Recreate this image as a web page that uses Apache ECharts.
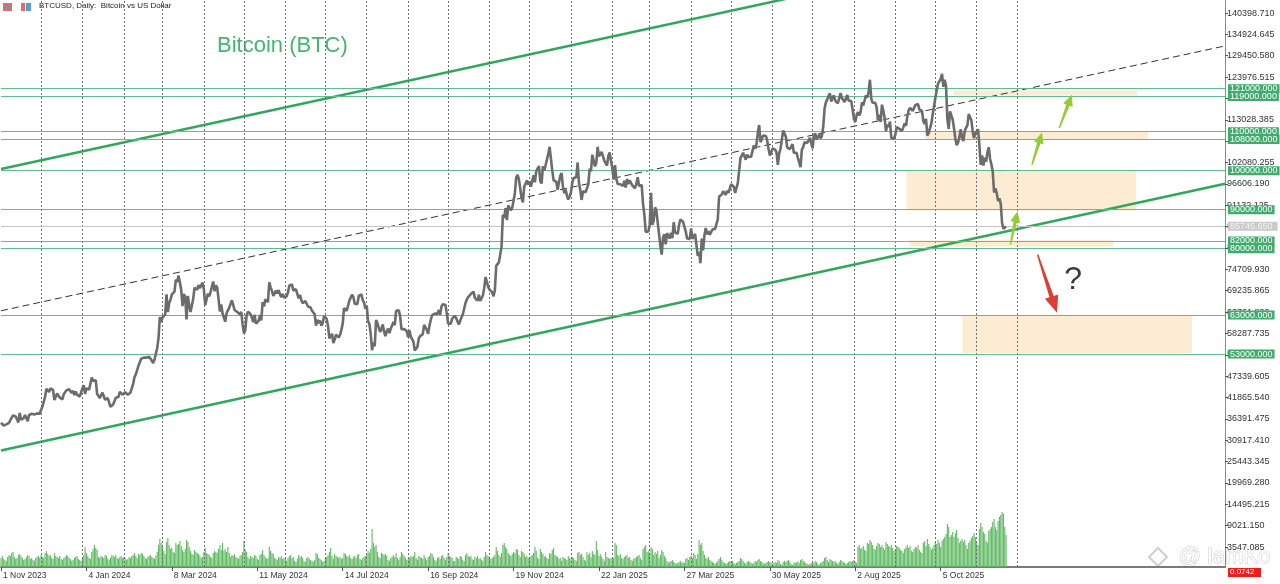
<!DOCTYPE html>
<html><head><meta charset="utf-8">
<script src="https://cdn.jsdelivr.net/npm/echarts@6/dist/echarts.min.js"></script>
<style>html,body{margin:0;padding:0;background:#fff}#c{width:1280px;height:584px}</style>
</head><body><div id="c"></div>
<script>
// ---------- DATA ----------
const startDate = '2023-11-01';           // day index 0
// Daily close, thousand USD (1 Nov 2023 .. 23 Nov 2025)
const closeK = [
// Nov 2023
35.4,34.9,34.7,35.1,35.0,35.0,35.4,35.6,36.7,37.3,37.1,37.0,36.5,35.5,37.9,36.2,36.6,36.6,37.4,37.5,35.8,37.4,37.3,37.7,37.8,37.5,37.2,37.8,37.9,37.7,
// Dec 2023
38.7,39.5,39.9,42.0,44.1,43.8,43.3,44.2,43.7,43.8,41.2,41.5,42.9,43.0,41.9,42.3,41.4,42.7,42.3,43.7,43.7,44.0,43.7,43.0,43.6,42.5,43.4,42.6,42.1,42.1,42.3,
// Jan 2024
44.2,45.0,42.8,44.2,44.2,43.9,43.9,47.0,46.1,46.6,46.3,42.8,42.8,41.7,42.5,43.1,42.7,41.3,41.6,41.7,41.6,39.5,39.8,40.1,39.9,41.8,42.1,42.0,43.3,42.9,42.6,
// Feb 2024
43.1,43.2,43.0,42.6,42.7,43.1,44.3,45.3,47.1,47.8,48.3,50.0,49.7,51.8,51.9,52.1,51.6,52.1,51.8,52.3,51.8,51.3,50.7,51.6,51.7,54.5,57.1,62.5,61.2,
// Mar 2024
62.4,62.0,63.1,68.3,63.8,66.1,66.9,68.3,68.5,69.0,72.1,71.5,73.1,71.4,69.5,65.3,68.4,67.6,61.9,67.9,65.5,63.8,64.1,67.2,70.0,69.9,69.5,70.7,69.9,69.7,71.3,
// Apr 2024
69.6,65.5,66.0,68.5,67.8,68.9,69.4,71.6,69.1,70.6,70.0,67.1,63.9,65.7,63.4,63.8,61.3,63.5,63.8,64.9,64.9,66.8,66.4,64.3,64.5,63.8,63.4,63.1,63.8,60.6,
// May 2024
58.3,59.1,62.9,63.9,64.0,63.2,62.3,61.2,63.1,60.8,60.8,61.5,63.0,61.6,66.3,65.2,67.0,67.0,66.3,71.4,70.1,69.2,67.9,68.5,69.3,68.5,69.4,68.3,67.6,68.4,67.5,
// Jun 2024
67.8,67.8,68.8,70.6,71.1,70.8,69.3,69.3,69.6,69.5,67.3,68.2,66.8,66.0,66.2,66.6,66.5,65.2,65.0,64.9,64.1,64.3,63.2,60.3,61.8,60.9,61.6,60.3,60.9,62.7,
// Jul 2024
62.8,62.0,60.2,57.0,56.6,58.2,55.8,56.7,58.0,57.7,57.3,57.9,59.2,60.8,64.8,65.1,64.1,63.9,66.7,67.2,68.2,67.6,65.9,65.4,65.8,67.9,68.0,68.3,66.8,66.2,64.6,
// Aug 2024
65.4,61.4,60.7,58.1,54.0,56.0,55.0,61.7,60.9,60.9,58.7,59.4,60.6,58.7,57.6,58.9,59.5,58.4,59.5,59.0,61.2,60.4,64.1,64.2,64.2,62.8,59.4,59.0,59.4,59.1,58.9,
// Sep 2024
57.3,59.1,57.5,58.0,56.2,53.9,54.2,54.9,57.0,57.6,57.3,58.1,60.5,60.0,59.2,58.2,60.3,61.8,63.0,63.2,63.4,63.6,63.3,64.3,63.1,65.2,65.8,65.9,65.6,63.3,
// Oct 2024
60.8,60.6,60.8,62.1,62.1,62.8,62.2,62.1,60.6,60.3,62.4,63.2,62.9,66.1,67.0,67.6,67.4,68.4,68.4,69.0,67.4,67.4,66.7,68.2,66.6,67.0,68.0,69.9,72.7,72.3,70.2,
// Nov 2024
69.5,69.4,68.8,67.8,69.4,75.6,75.9,76.5,76.7,80.5,88.7,87.9,90.4,87.3,91.1,90.6,89.8,90.5,92.3,94.3,98.3,98.9,97.8,98.0,93.0,91.9,95.9,95.6,97.5,96.4,
// Dec 2024
97.3,95.9,96.0,98.8,97.0,99.9,99.8,101.2,97.4,96.7,101.2,100.0,101.4,101.4,104.3,106.1,106.1,100.0,97.5,97.8,97.2,95.1,94.7,98.7,99.4,95.8,94.2,95.2,93.6,92.6,93.4,
// Jan 2025
94.4,96.9,98.1,98.2,98.3,102.1,96.9,95.0,92.5,94.7,94.5,94.5,94.5,96.5,100.5,99.8,104.1,104.4,101.1,102.0,106.1,103.7,104.0,104.8,104.7,102.6,102.1,101.3,103.7,104.7,102.4,
// Feb 2025
100.6,97.7,101.4,97.9,96.6,96.6,96.5,96.5,96.1,97.4,95.7,97.9,96.6,97.5,97.6,96.2,95.8,95.5,96.6,98.3,96.1,96.6,96.3,91.5,88.7,84.3,84.7,84.4,
// Mar 2025
86.1,94.3,86.1,87.2,90.6,89.9,86.7,86.2,80.7,78.5,82.9,83.7,81.1,84.0,84.3,82.6,84.1,82.7,86.8,84.2,84.0,83.8,86.1,87.5,87.4,86.9,87.2,84.4,82.6,82.3,82.5,
// Apr 2025
85.2,82.5,83.1,83.8,83.5,78.2,79.2,76.3,82.6,79.6,83.4,85.3,83.7,84.5,83.6,84.0,84.9,84.5,85.1,85.2,87.5,93.4,93.7,93.9,94.7,94.6,93.8,94.9,94.3,94.2,
// May 2025
96.5,96.9,95.9,94.3,94.7,96.8,97.0,103.2,102.9,104.6,104.1,102.8,104.1,103.5,103.7,103.6,103.2,106.5,105.6,106.8,109.7,111.7,107.3,107.8,109.0,109.4,108.9,107.8,105.6,103.9,104.6,
// Jun 2025
105.7,105.8,105.4,104.7,101.5,104.4,105.6,105.7,110.3,110.3,108.7,105.9,106.1,105.5,105.6,106.8,104.6,104.9,104.6,103.3,102.1,100.9,105.4,106.0,107.3,106.9,107.1,107.3,108.4,107.1,
// Jul 2025
105.7,108.8,109.6,108.0,108.2,109.2,108.3,108.9,111.3,115.9,117.5,117.4,119.1,119.8,117.7,118.7,119.3,117.9,117.9,117.3,117.4,119.9,118.6,118.3,117.6,117.9,119.4,118.0,117.8,117.8,115.7,
// Aug 2025
113.3,112.5,114.2,115.0,114.1,115.0,117.5,116.7,116.5,119.3,118.7,120.2,123.3,118.4,117.4,117.5,117.4,116.2,112.9,114.3,112.5,116.9,115.4,113.5,110.1,111.8,111.2,112.6,108.4,108.8,108.2,
// Sep 2025
109.2,111.2,111.7,110.7,110.7,110.2,111.1,112.1,111.5,113.9,115.5,116.1,115.9,115.3,115.4,116.8,116.5,117.1,115.7,115.7,115.3,112.7,112.0,113.3,109.0,109.6,109.7,112.1,114.4,114.1,
// Oct 2025
118.6,120.6,122.3,122.4,123.5,124.8,121.5,123.3,121.7,113.2,110.7,115.2,115.3,113.1,110.8,108.2,106.5,107.2,108.6,110.6,108.5,107.6,110.1,111.0,111.6,114.5,114.1,112.9,110.0,108.3,109.6,
// Nov 2025
110.1,110.6,106.5,101.5,103.9,101.3,103.3,102.3,104.7,106.0,103.0,101.6,99.7,94.4,95.5,94.2,92.2,92.9,91.5,86.6,85.1,84.7,85.7
];
// Daily tick volume (relative units)
const volume = [
9,11,8,7,6,10,12,11,14,15,10,8,9,12,13,11,9,7,8,10,12,11,8,9,7,6,9,10,11,9,
12,10,9,14,16,13,11,12,9,8,14,11,10,9,11,8,7,9,10,12,11,9,8,6,7,9,10,11,8,7,6,
8,12,20,14,11,9,8,15,18,22,19,17,10,9,11,10,9,12,11,8,7,9,12,11,10,12,9,8,10,11,9,
10,9,7,8,10,9,11,12,14,11,9,13,12,14,13,11,9,8,10,11,12,10,9,8,11,15,22,28,24,
20,16,13,25,29,22,18,19,15,14,24,22,23,26,21,17,15,18,27,25,20,16,13,12,17,15,14,13,11,9,10,
15,19,14,13,12,10,9,14,16,15,14,18,22,17,24,16,18,15,20,14,10,12,11,13,10,9,8,11,12,15,
26,17,15,10,8,11,10,9,12,11,8,7,12,13,17,12,10,8,9,20,16,14,13,9,8,7,10,9,11,8,9,
8,6,9,11,12,9,10,6,5,8,12,10,11,9,6,5,9,10,8,7,6,5,7,14,13,9,8,7,5,6,
9,10,12,15,19,11,8,13,11,10,9,10,8,9,14,13,11,10,12,9,8,10,11,9,12,13,8,7,9,10,11,
12,16,14,18,38,24,20,22,15,10,9,14,13,12,13,11,7,6,9,10,12,10,14,9,7,10,15,13,11,9,7,
8,9,11,10,11,15,9,7,11,10,9,8,12,9,7,10,11,14,13,10,7,6,9,10,8,11,12,9,7,10,
14,11,10,9,6,6,10,9,8,11,10,7,6,12,14,11,10,11,8,7,10,9,11,8,9,7,6,10,15,12,11,
10,8,9,10,12,20,16,12,10,14,22,24,20,18,14,12,11,13,15,14,18,17,12,10,16,15,13,10,11,9,
10,11,12,14,20,16,9,8,18,15,13,10,11,9,8,14,13,17,19,12,11,10,8,9,6,10,9,8,7,11,9,
8,10,9,7,6,14,15,12,13,10,7,6,15,12,14,10,16,13,12,26,17,11,13,10,8,6,15,10,9,8,9,
8,9,24,22,12,11,13,9,8,10,11,12,9,10,7,6,8,9,10,11,12,9,7,18,20,22,15,16,
14,20,18,12,15,13,16,9,12,17,15,11,9,6,4,5,6,7,5,4,3,4,5,6,4,5,4,8,9,7,10,
11,9,14,12,8,13,27,22,24,16,12,9,8,10,7,6,5,4,3,4,6,8,10,7,5,4,3,4,5,6,
5,6,4,3,4,5,6,9,8,6,4,3,5,6,5,4,3,4,6,5,7,8,6,5,4,3,4,5,6,5,4,
3,4,5,4,7,6,3,2,5,6,5,6,7,5,3,2,4,5,4,6,4,7,8,6,5,4,3,2,3,4,
5,4,6,5,3,2,4,5,6,9,10,7,5,8,7,6,5,6,4,3,5,7,6,5,4,3,4,5,6,5,6,
7,5,4,20,22,18,19,21,17,16,24,23,27,25,22,18,17,21,24,23,20,22,19,17,25,23,21,20,22,19,16,
18,21,20,19,17,16,14,18,20,22,19,21,16,15,18,20,19,22,17,15,14,24,26,21,28,23,20,17,19,22,
25,23,27,24,20,26,28,30,33,43,40,30,32,35,30,34,37,29,24,26,28,25,27,22,18,24,26,29,31,34,30,
24,22,38,44,40,35,33,26,24,36,38,40,45,48,40,37,46,50,52,55,53,40,32
];
const yTicks = [3547.085,9021.150,14495.215,19969.280,25443.345,30917.410,36391.475,41865.540,47339.605,52813.670,58287.735,63761.800,69235.865,74709.930,80183.995,85658.060,91132.125,96606.190,102080.255,107554.320,113028.385,118502.450,123976.515,129450.580,134924.645,140398.710];
const xTickDates = ['2023-11-01','2024-01-04','2024-03-08','2024-05-11','2024-07-14','2024-09-16','2024-11-19','2025-01-22','2025-03-27','2025-05-30','2025-08-02','2025-10-05'];
const xTickLabels = ['1 Nov 2023','4 Jan 2024','8 Mar 2024','11 May 2024','14 Jul 2024','16 Sep 2024','19 Nov 2024','22 Jan 2025','27 Mar 2025','30 May 2025','2 Aug 2025','5 Oct 2025'];
const monthStarts = ['2023-12-01','2024-01-01','2024-02-01','2024-03-01','2024-04-01','2024-05-01','2024-06-01','2024-07-01','2024-08-01','2024-09-01','2024-10-01','2024-11-01','2024-12-01','2025-01-01','2025-02-01','2025-03-01','2025-04-01','2025-05-01','2025-06-01','2025-07-01','2025-08-01','2025-09-01','2025-10-01','2025-11-01','2025-12-01'];
const levels = [121000,119000,110000,108000,100000,90000,82000,80000,63000,53000];
const lastPrice = 85745.654;
// zones: [fromDay, topPrice, toDay, bottomPrice]
const zones = [
  [713.5,120500,851.1,119200],
  [692.6,110100,859.4,107900],
  [678.4,100000,850.4,89800],
  [680.6,82200,833.2,80500],
  [720.3,63100,892.3,53200]
];
// trend lines: [[day, price],[day, price]]
const channelUpper = [[0,100450],[917,168400]];
const channelLower = [[0,28300],[917,96670]];
const midDashed   = [[0,64100],[917,131970]];
// arrows: [fromDay, fromPrice, toDay, toPrice]
const upArrows = [[756.2,81060,761.6,89580],[772.4,101530,779.9,109790],[792.8,110910,802.3,119430]];
const downArrows = [[776.6,78500,791.1,63590]];
const questionMark = [[803.3,71850]];

// ---------- HELPERS ----------
const t0 = Date.parse(startDate + 'T00:00:00Z');
const dayIndex = s => (Date.parse(s + 'T00:00:00Z') - t0) / 864e5;
const xTickDays = xTickDates.map(dayIndex);
const FONT = "'Liberation Sans', Arial, sans-serif";

function arrowRender(tailW, shaftW, headW, headL, color) {
  return function (params, api) {
    const p0 = api.coord([api.value(0), api.value(1)]);
    const p1 = api.coord([api.value(2), api.value(3)]);
    const dx = p1[0]-p0[0], dy = p1[1]-p0[1];
    const len = Math.hypot(dx, dy);
    const ux = dx/len, uy = dy/len, nx = -uy, ny = ux;
    const hb = [p1[0]-ux*headL, p1[1]-uy*headL];
    const pts = [
      [p0[0]+nx*tailW/2, p0[1]+ny*tailW/2],
      [hb[0]+nx*shaftW/2, hb[1]+ny*shaftW/2],
      [hb[0]+nx*headW/2, hb[1]+ny*headW/2],
      p1,
      [hb[0]-nx*headW/2, hb[1]-ny*headW/2],
      [hb[0]-nx*shaftW/2, hb[1]-ny*shaftW/2],
      [p0[0]-nx*tailW/2, p0[1]-ny*tailW/2]
    ];
    return { type: 'polygon', shape: { points: pts }, style: { fill: color } };
  };
}

const chart = echarts.init(document.getElementById('c'), null, { renderer: 'canvas' });
chart.setOption({
  animation: false,
  backgroundColor: '#ffffff',
  grid: { left: -1, right: 55, top: 0, bottom: 17, containLabel: false },
  xAxis: {
    type: 'value', min: 0, max: 917,
    axisLine: { show: true, onZero: false, lineStyle: { color: '#7a7a7a', width: 2 } },
    axisTick: { show: true, length: 4, lineStyle: { color: '#555' }, customValues: xTickDays },
    axisLabel: {
      customValues: xTickDays, align: 'left', margin: 4, padding: [0,0,0,2],
      fontSize: 8.5, color: '#333', fontFamily: FONT,
      formatter: v => { const i = xTickDays.findIndex(d => Math.abs(d - v) < 0.5); return i >= 0 ? xTickLabels[i] : ''; }
    },
    splitLine: { show: false }
  },
  yAxis: [{
    type: 'value', position: 'right', min: -1560, max: 143734,
    axisLine: { show: true, onZero: false, lineStyle: { color: '#8a8a8a', width: 1 } },
    axisTick: { show: true, length: 3, lineStyle: { color: '#555' }, customValues: yTicks },
    axisLabel: { customValues: yTicks, margin: 2, fontSize: 9, color: '#333', fontFamily: FONT, formatter: v => v.toFixed(3) },
    splitLine: { show: false }
  }, {
    type: 'value', min: 0, max: 568, show: false, position: 'left',
    axisLine: { show: false }, axisTick: { show: false }, axisLabel: { show: false }, splitLine: { show: false }
  }],
  series: [
    { // zones
      type: 'line', data: [], z: 1, silent: true,
      markArea: { silent: true, itemStyle: { color: '#fdecd4' },
        data: zones.map(z => [{ coord: [z[0], z[1]] }, { coord: [z[2], z[3]] }]) }
    },
    { // monthly dotted grid
      type: 'line', data: [], z: 2, silent: true,
      markLine: { silent: true, symbol: ['none','none'], label: { show: false },
        lineStyle: { color: '#6f6f6f', width: 1, type: [2, 2] },
        data: monthStarts.map(d => ({ xAxis: dayIndex(d) })) }
    },
    { // volume
      type: 'bar', yAxisIndex: 1, z: 3, barWidth: 1.1, silent: true,
      itemStyle: { color: '#5fba62' },
      data: volume.map((v, i) => [i, v])
    },
    { // level lines
      type: 'line', data: [], z: 3, silent: true,
      markLine: { silent: true, symbol: ['none','none'],
        lineStyle: { color: '#62bd8c', width: 1, type: 'solid' },
        label: { show: true, position: 'end', distance: 3, formatter: p => p.value.toFixed(3),
          backgroundColor: '#3fab6d', color: '#ffffff', fontSize: 9, fontFamily: FONT, padding: [0, 2, 0, 2], lineHeight: 9 },
        data: levels.map(l => ({ yAxis: l })) }
    },
    { // current price line
      type: 'line', data: [], z: 3, silent: true,
      markLine: { silent: true, symbol: ['none','none'],
        lineStyle: { color: '#c4c4c4', width: 1, type: 'solid' },
        label: { show: true, position: 'end', distance: 3, formatter: p => p.value.toFixed(3),
          backgroundColor: '#cacaca', color: '#f4f4f4', fontSize: 9, fontFamily: FONT, padding: [0, 5, 0, 2], lineHeight: 9 },
        data: [{ yAxis: lastPrice }] }
    },
    { type: 'line', z: 4, silent: true, showSymbol: false, data: channelUpper, lineStyle: { color: '#2fa85c', width: 2.5 } },
    { type: 'line', z: 4, silent: true, showSymbol: false, data: channelLower, lineStyle: { color: '#2fa85c', width: 2.5 } },
    { type: 'line', z: 4, silent: true, showSymbol: false, data: midDashed, lineStyle: { color: '#333333', width: 1, type: [7, 4] } },
    { // price
      type: 'line', z: 5, silent: true, showSymbol: false,
      data: closeK.map((c, i) => [i, c * 1000]),
      lineStyle: { color: '#6c6c6c', width: 2.6 }
    },
    { type: 'custom', z: 6, silent: true, data: upArrows, encode: { x: [0, 2], y: [1, 3] },
      renderItem: arrowRender(1.5, 3.5, 10, 11, '#93cc35') },
    { type: 'custom', z: 6, silent: true, data: downArrows, encode: { x: [0, 2], y: [1, 3] },
      renderItem: arrowRender(1.5, 4.5, 14, 17, '#de3e35') },
    { type: 'custom', z: 6, silent: true, data: questionMark,
      renderItem: (params, api) => {
        const p = api.coord([api.value(0), api.value(1)]);
        return { type: 'text', x: p[0], y: p[1], style: { text: '?', fill: '#3a3a3a', fontSize: 32, fontFamily: FONT, align: 'center', verticalAlign: 'middle' } };
      } }
  ],
  graphic: [
    { type: 'rect', left: 3, top: 3, shape: { width: 9, height: 8 }, style: { fill: '#e86a5a' } },
    { type: 'rect', left: 5, top: 5, shape: { width: 5, height: 4 }, style: { fill: '#5b9bd5' } },
    { type: 'rect', left: 21, top: 3, shape: { width: 4, height: 8 }, style: { fill: '#e86a5a' } },
    { type: 'rect', left: 26, top: 3, shape: { width: 5, height: 8 }, style: { fill: '#5b9bd5' } },
    { type: 'text', left: 39, top: 2, style: { text: 'BTCUSD, Daily:  Bitcoin vs US Dollar', fill: '#222', fontSize: 8, fontFamily: FONT } },
    { type: 'text', left: 217, top: 35, style: { text: 'Bitcoin (BTC)', fill: '#44b76f', fontSize: 22, fontFamily: FONT } },
    { type: 'polygon', shape: { points: [[1158,548],[1167,557],[1158,566],[1149,557]] }, style: { fill: 'none', stroke: '#cfcfcf', lineWidth: 2 } },
    { type: 'text', left: 1178, top: 545, style: { text: '@ IamKo', fill: '#ffffff', stroke: '#c8c8c8', lineWidth: 1, fontSize: 22, fontFamily: FONT } },
    { type: 'rect', left: 1228, top: 568, shape: { width: 33, height: 9 }, style: { fill: '#ee1c1c' } },
    { type: 'text', left: 1230, top: 568, style: { text: '0.0742', fill: '#ffffff', fontSize: 8, fontFamily: FONT } }
  ]
});
</script></body></html>
